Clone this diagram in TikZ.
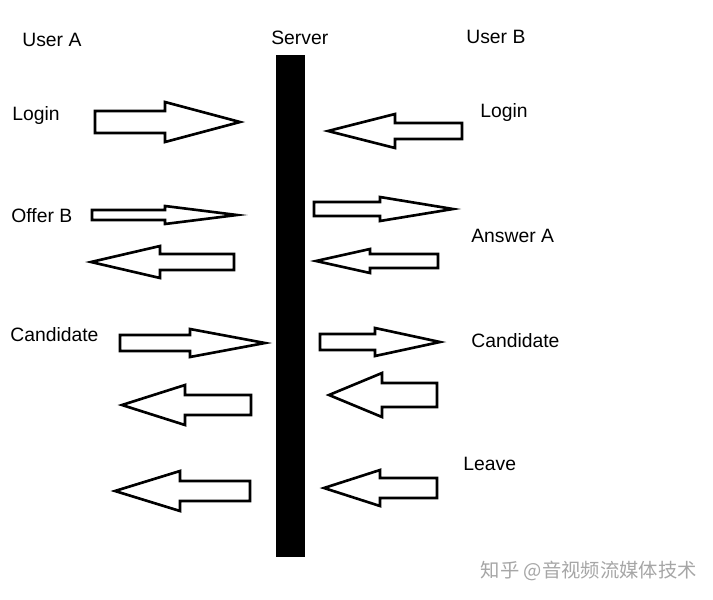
\documentclass[tikz,border=0pt]{standalone}
\usepackage{fontspec}
\setmainfont{Liberation Sans}
\newfontfamily\cjk{Noto Sans CJK SC}

% block arrow: tip x, tail x, centre y, shaft half, head half, head base x
\newcommand{\blockarrow}[6]{%
	\draw[blockline] (#2, #3 - #4) -- (#6, #3 - #4) -- (#6, #3 - #5) --
		(#1, #3) -- (#6, #3 + #5) -- (#6, #3 + #4) -- (#2, #3 + #4) -- cycle;}

\begin{document}
\begin{tikzpicture}[x=0.02cm, y=-0.02cm,
	blockline/.style={line width=1.5pt, black, line join=miter},
	lbl/.style={font=\fontsize{11}{13}\selectfont, inner sep=0pt, anchor=west}]

	\useasboundingbox (0,0) rectangle (713,599);

	% server bar
	\fill[black] (276,55) rectangle (305,557);

	% labels
	\node[lbl] (usera) at (22,40) {User A};
	\node[lbl] (server) at (271,38) {Server};
	\node[lbl] (userb) at (466,37) {User B};
	\node[lbl] (logina) at (12,115) {Login};
	\node[lbl] (loginb) at (480,112) {Login};
	\node[lbl] (offer) at (11,216) {Offer B};
	\node[lbl] (answer) at (471,236) {Answer A};
	\node[lbl] (canda) at (10,335) {Candidate};
	\node[lbl] (candb) at (471,341) {Candidate};
	\node[lbl] (leave) at (463,464) {Leave};

	% user A side
	\blockarrow{240}{95}{122}{11}{20}{165}
	\blockarrow{237}{92}{215}{5}{9}{165}
	\blockarrow{91}{234}{262}{8}{16}{160}
	\blockarrow{265}{120}{343}{8}{14}{190}
	\blockarrow{122}{251}{405}{10}{20}{185}
	\blockarrow{115}{250}{491}{10}{20}{180}

	% user B side
	\blockarrow{328}{462}{131}{8}{17}{395}
	\blockarrow{453}{314}{209}{7}{12}{380}
	\blockarrow{316}{438}{261}{7}{12}{370}
	\blockarrow{440}{320}{342}{8}{14}{375}
	\blockarrow{329}{437}{395}{12}{22}{382}
	\blockarrow{324}{437}{488}{10}{18}{380}

	% watermark
	\node[font=\cjk\fontsize{11}{13}\selectfont, text=black!35, anchor=east, inner sep=0pt] (mark) at (697,571) {知乎 @音视频流媒体技术};
\end{tikzpicture}
\end{document}
